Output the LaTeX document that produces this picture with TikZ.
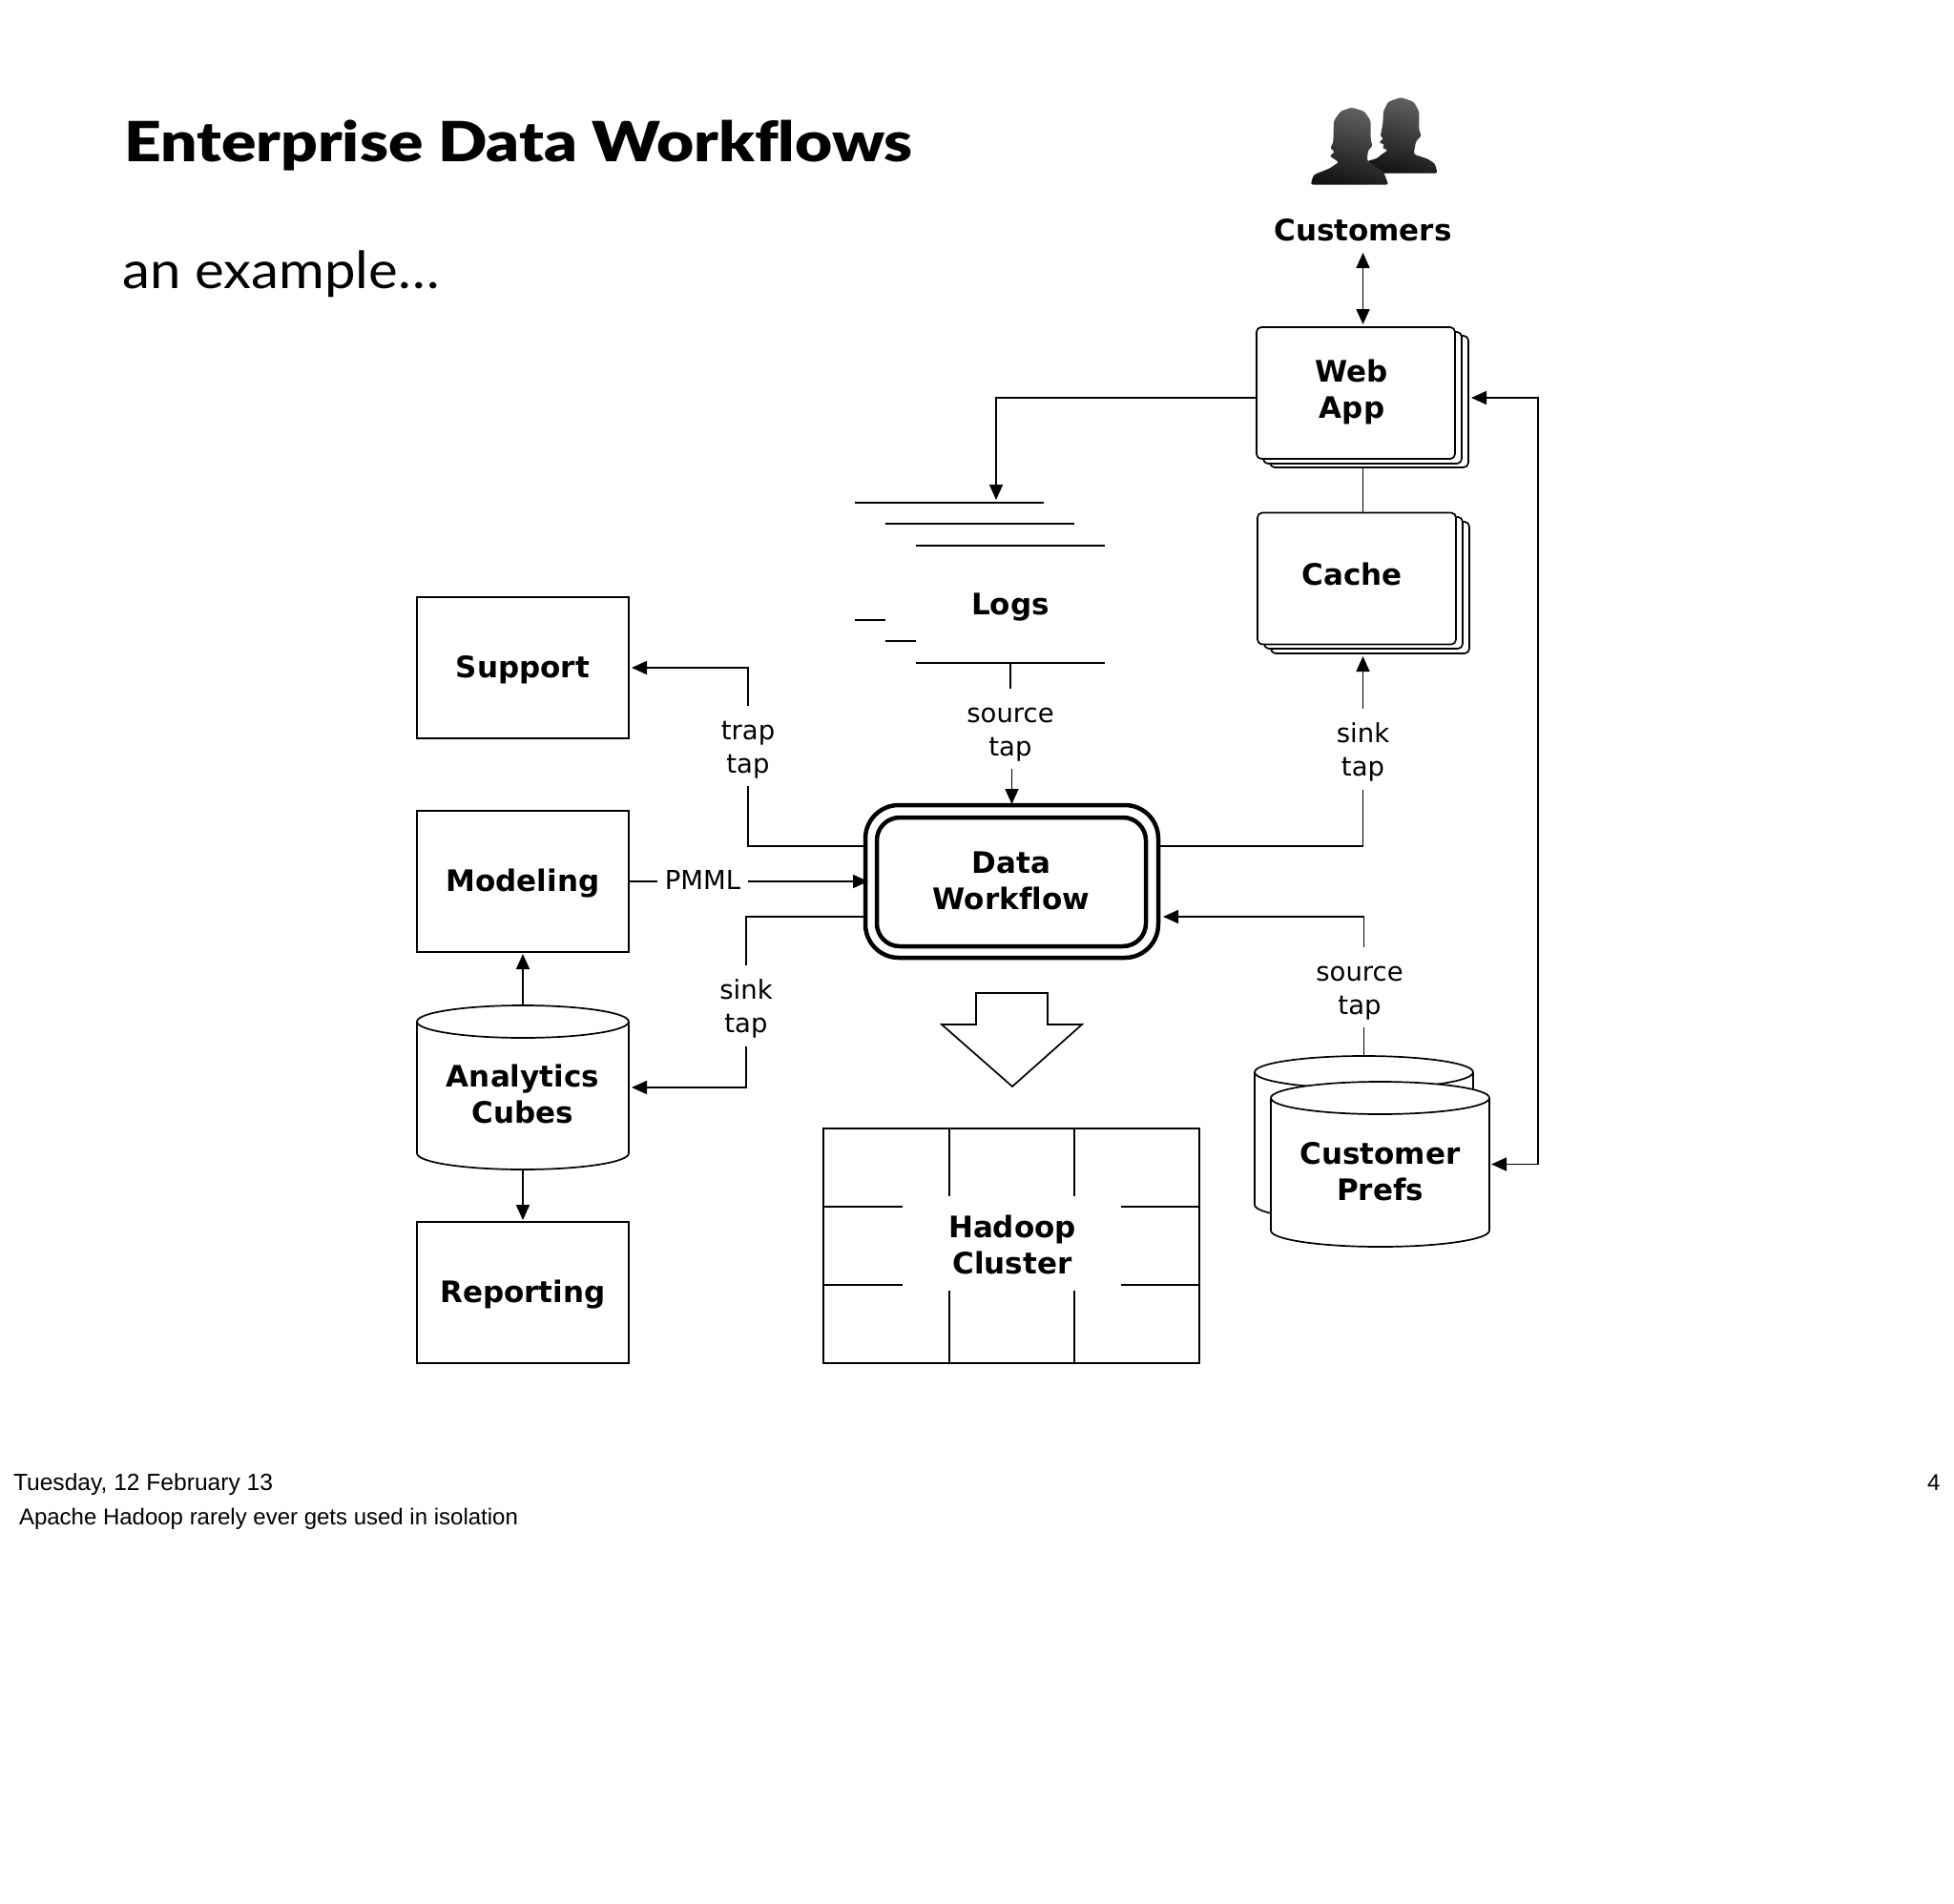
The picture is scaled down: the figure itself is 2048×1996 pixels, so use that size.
\documentclass[tikz,border=0pt]{standalone}
\usepackage{fontspec}
\usetikzlibrary{arrows.meta,calc}
\setmainfont{DejaVu Sans}
\newfontfamily\ttlfont[FakeStretch=1.165,Ligatures=NoCommon]{Lato Black}
\newfontfamily\subfont[FakeStretch=1.076]{Lato}
\newfontfamily\footfont{Liberation Sans}
\newcommand{\lblt}[4]{\rule{0pt}{#1pt}#3\\#4\rule[-#2pt]{0pt}{#2pt}}
\newcommand{\cylshape}[4]{%
  \pgfmathsetmacro{\rxv}{(#2-#1)/2}%
  \draw[ln,fill=white] (#1,#3+17) arc[start angle=180,end angle=0,x radius=\rxv pt,y radius=17pt]
    -- (#2,#4-17) arc[start angle=0,end angle=-180,x radius=\rxv pt,y radius=17pt] -- cycle;
  \draw[ln] (#1,#3+17) arc[start angle=180,end angle=360,x radius=\rxv pt,y radius=17pt];
}
\tikzset{
  ln/.style={line width=1.7pt,draw=black},
  arr/.style={ln,-{Triangle[length=16pt,width=14pt]}},
  darr/.style={ln,{Triangle[length=16pt,width=14pt]}-{Triangle[length=16pt,width=14pt]}},
  bt/.style={font=\fontsize{31}{38}\selectfont\bfseries,align=center,inner sep=0pt,outer sep=0pt},
  boxn/.style={bt,ln,rectangle,minimum width=222pt,minimum height=148pt,text height=28pt,text depth=7pt},
  card/.style={bt,ln,rectangle,fill=white,rounded corners=5pt,minimum width=208pt,minimum height=138pt},
  hole/.style={bt,rectangle,minimum width=222pt,minimum height=172pt},
  lbl/.style={font=\fontsize{27.5}{35.4}\selectfont,align=center,inner sep=0pt,outer sep=0pt,anchor=north},
  person/.style={top color=black!62,bottom color=black!92,shading angle=-15,draw=none,rounded corners=2.5pt},
  foot/.style={font=\fontsize{24}{28}\selectfont\footfont,inner sep=0pt,outer sep=0pt,anchor=base west}
}
\begin{document}
\begin{tikzpicture}[x=1pt,y=-1pt]
\useasboundingbox (0,0) rectangle (2048,1996);
\fill[white] (0,0) rectangle (2048,1996);

% titles
\node[font=\fontsize{58}{60}\selectfont\ttlfont,anchor=base west,inner sep=0pt] (title) at (130,170) {Enterprise Data Workflows};
\node[font=\fontsize{54}{60}\selectfont\subfont,anchor=base west,inner sep=0pt] (sub) at (128,302) {an example\ldots};
\node[foot,font=\fontsize{24.6}{28}\selectfont\footfont] (date) at (14,1562) {Tuesday, 12 February 13};
\node[foot] (note) at (20,1598) {Apache Hadoop rarely ever gets used in isolation};
\node[foot,anchor=base east] (page) at (2033.5,1562) {4};

% customers icon
\begin{scope}[shift={(1280,80)},x=0.3333pt,y=-0.3333pt]
\shade[person] (455,305) -- (455,268) -- (490,258) -- (505,245) -- (525,232) -- (505,225) -- (515,215) -- (495,208) -- (512,195) -- (500,190) -- (508,150) -- (510,110) -- (525,80) -- (565,66) -- (605,80) -- (622,110) -- (622,170) -- (630,186) -- (612,205) -- (605,245) -- (650,260) -- (672,275) -- (680,305) -- cycle;
\fill[white] (462,232) -- (476,222) -- (462,268) -- (452,268) -- cycle;
\shade[person] (281,341) -- (290,310) -- (340,290) -- (370,270) -- (340,250) -- (358,238) -- (342,226) -- (352,210) -- (354,140) -- (375,110) -- (410,98) -- (450,110) -- (470,140) -- (470,200) -- (476,220) -- (462,232) -- (458,265) -- (510,300) -- (526,341) -- cycle;
\end{scope}

% customers & web
\node[bt,anchor=base,text height=24pt,text depth=13pt] (cust) at (1428.5,252) {Customers};
\node[card,minimum height=138pt] (webc) at (1435,421) {};
\node[card] (webb) at (1428,417) {};
\node[card] (web) at (1421,412) {\rule{0pt}{24pt}Web\hspace*{8pt}\\App\hspace*{8pt}\rule[-10pt]{0pt}{10pt}};
\coordinate (rt) at (1612,417);
\draw[darr,shorten >=3pt] (cust.south) -- (cust.south |- web.north);

% cache
\draw[ln] (cust.south |- webc.south) -- (cust.south |- 0,537);
\node[card] (cachec) at (1436,616) {};
\node[card] (cacheb) at (1429,611) {};
\node[card,text height=24pt,text depth=11pt] (cache) at (1422,606.5) {Cache\hspace*{10pt}};

% logs
\draw[ln] (896,527) -- (1094,527) (928,549) -- (1126,549) (960,572) -- (1158,572)
          (896,650) -- (928,650) (928,672) -- (960,672) (960,695) -- (1158,695);
\node[bt,minimum width=198pt,minimum height=123pt,text height=28pt,text depth=7pt] (logs) at (1059,633.5) {Logs};
\coordinate (logtop) at (1044,527);
\draw[arr,shorten >=3pt] (web.west |- rt) -| (logtop);

% data workflow
\node[line width=4.5pt,draw=black,rectangle,rounded corners=35pt,minimum width=307pt,minimum height=160pt,inner sep=0pt,outer sep=0pt,fill=white] (flow) at (1060.5,924) {};
\node[bt,line width=4.5pt,draw=black,rectangle,rounded corners=24pt,minimum width=282pt,minimum height=135pt] (flowin) at (1060,924.5) {\rule{0pt}{26pt}Data\\Workf\kern0pt low\rule[-7pt]{0pt}{7pt}};
\coordinate (hi) at (0,887);
\coordinate (lo) at (0,961);

% left boxes
\node[boxn] (support) at (548,700) {Support};
\node[boxn] (modeling) at (548,924) {Modeling};
\node[boxn] (reporting) at (548,1355) {Reporting};
\cylshape{437}{659}{1054}{1226}
\node[hole] (cubes) at (548,1140) {\rule{0pt}{43pt}Analytics\\Cubes\rule[-7pt]{0pt}{7pt}};

% customer prefs
\cylshape{1315}{1544}{1107}{1280}
\node[hole,minimum width=229pt,minimum height=173pt] (prefb) at (1429.5,1193.5) {};
\cylshape{1332}{1561}{1134}{1307}
\node[hole,minimum width=229pt,minimum height=173pt] (prefs) at (1446.5,1220.5) {\rule{0pt}{44pt}Customer\\Prefs\rule[-7pt]{0pt}{7pt}};

% hadoop
\node[bt,ln,rectangle,minimum width=394pt,minimum height=246pt] (hadoop) at (1060,1306) {\rule{0pt}{27pt}\hspace*{2pt}Hadoop\\\hspace*{2pt}Cluster\rule[-7pt]{0pt}{7pt}};
\draw[line width=2.8pt] (995,1183) -- (995,1254) (995,1353) -- (995,1429);
\draw[ln] (1126,1183) -- (1126,1254) (1126,1353) -- (1126,1429)
          (863,1265) -- (946,1265) (863,1347) -- (946,1347)
          (1175,1265) -- (1257,1265) (1175,1347) -- (1257,1347);

% big arrow
\draw[ln,line join=miter] (1023,1041) -- (1098,1041) -- (1098,1074) -- (1134,1074) -- (1061,1139) -- (987,1074) -- (1023,1074) -- cycle;

% labels
\node[lbl] (lsrc) at (1059,722) {\lblt{35}{14}{source}{tap}};
\node[lbl] (ltrap) at (784,740) {\lblt{35}{13.5}{trap}{tap}};
\node[lbl] (lsinkl) at (782,1012) {\lblt{35}{14.5}{sink}{tap}};
\node[lbl] (lsinkr) at (1428.5,743) {\lblt{35}{14.5}{sink}{tap}};
\node[lbl] (lsrcr) at (1425,993) {\lblt{35}{13.5}{source}{tap}};
\node[font=\fontsize{27.5}{34.7}\selectfont,inner sep=0pt,outer sep=0pt,minimum width=95pt,text height=22pt,text depth=6pt] (lpmml) at (736.5,924) {PMML};

% connectors
\draw[ln] (logs.south) -- (lsrc.north);
\draw[arr,shorten >=1pt] (lsrc.south -| flow.north) -- (flow.north);
\draw[ln] (flow.west |- hi) -| (ltrap.south);
\draw[arr,shorten >=3pt] (ltrap.north) |- (support.east);
\draw[ln] (modeling.east) -- (lpmml.west);
\draw[arr,shorten >=-3pt] (lpmml.east) -- (flow.west);
\draw[ln] (flow.west |- lo) -| (lsinkl.north);
\draw[arr,shorten >=3pt] (lsinkl.south) |- (cubes.east);
\draw[arr,shorten >=2pt] (cubes.north) -- (modeling.south);
\draw[arr,shorten >=2pt] (cubes.south) -- (reporting.north);
\draw[ln] (flow.east |- hi) -| (lsinkr.south);
\draw[arr,shorten >=3pt] (lsinkr.north) -- (lsinkr.north |- cachec.south);
\draw[ln] (prefb.north) -- (prefb.north |- lsrcr.south);
\draw[arr,shorten >=5pt] (prefb.north |- lsrcr.north) |- (flow.east |- lo);
\draw[darr,shorten >=3pt,shorten <=2pt] (prefs.east) -| (rt) -- (webc.east |- rt);
\end{tikzpicture}
\end{document}
